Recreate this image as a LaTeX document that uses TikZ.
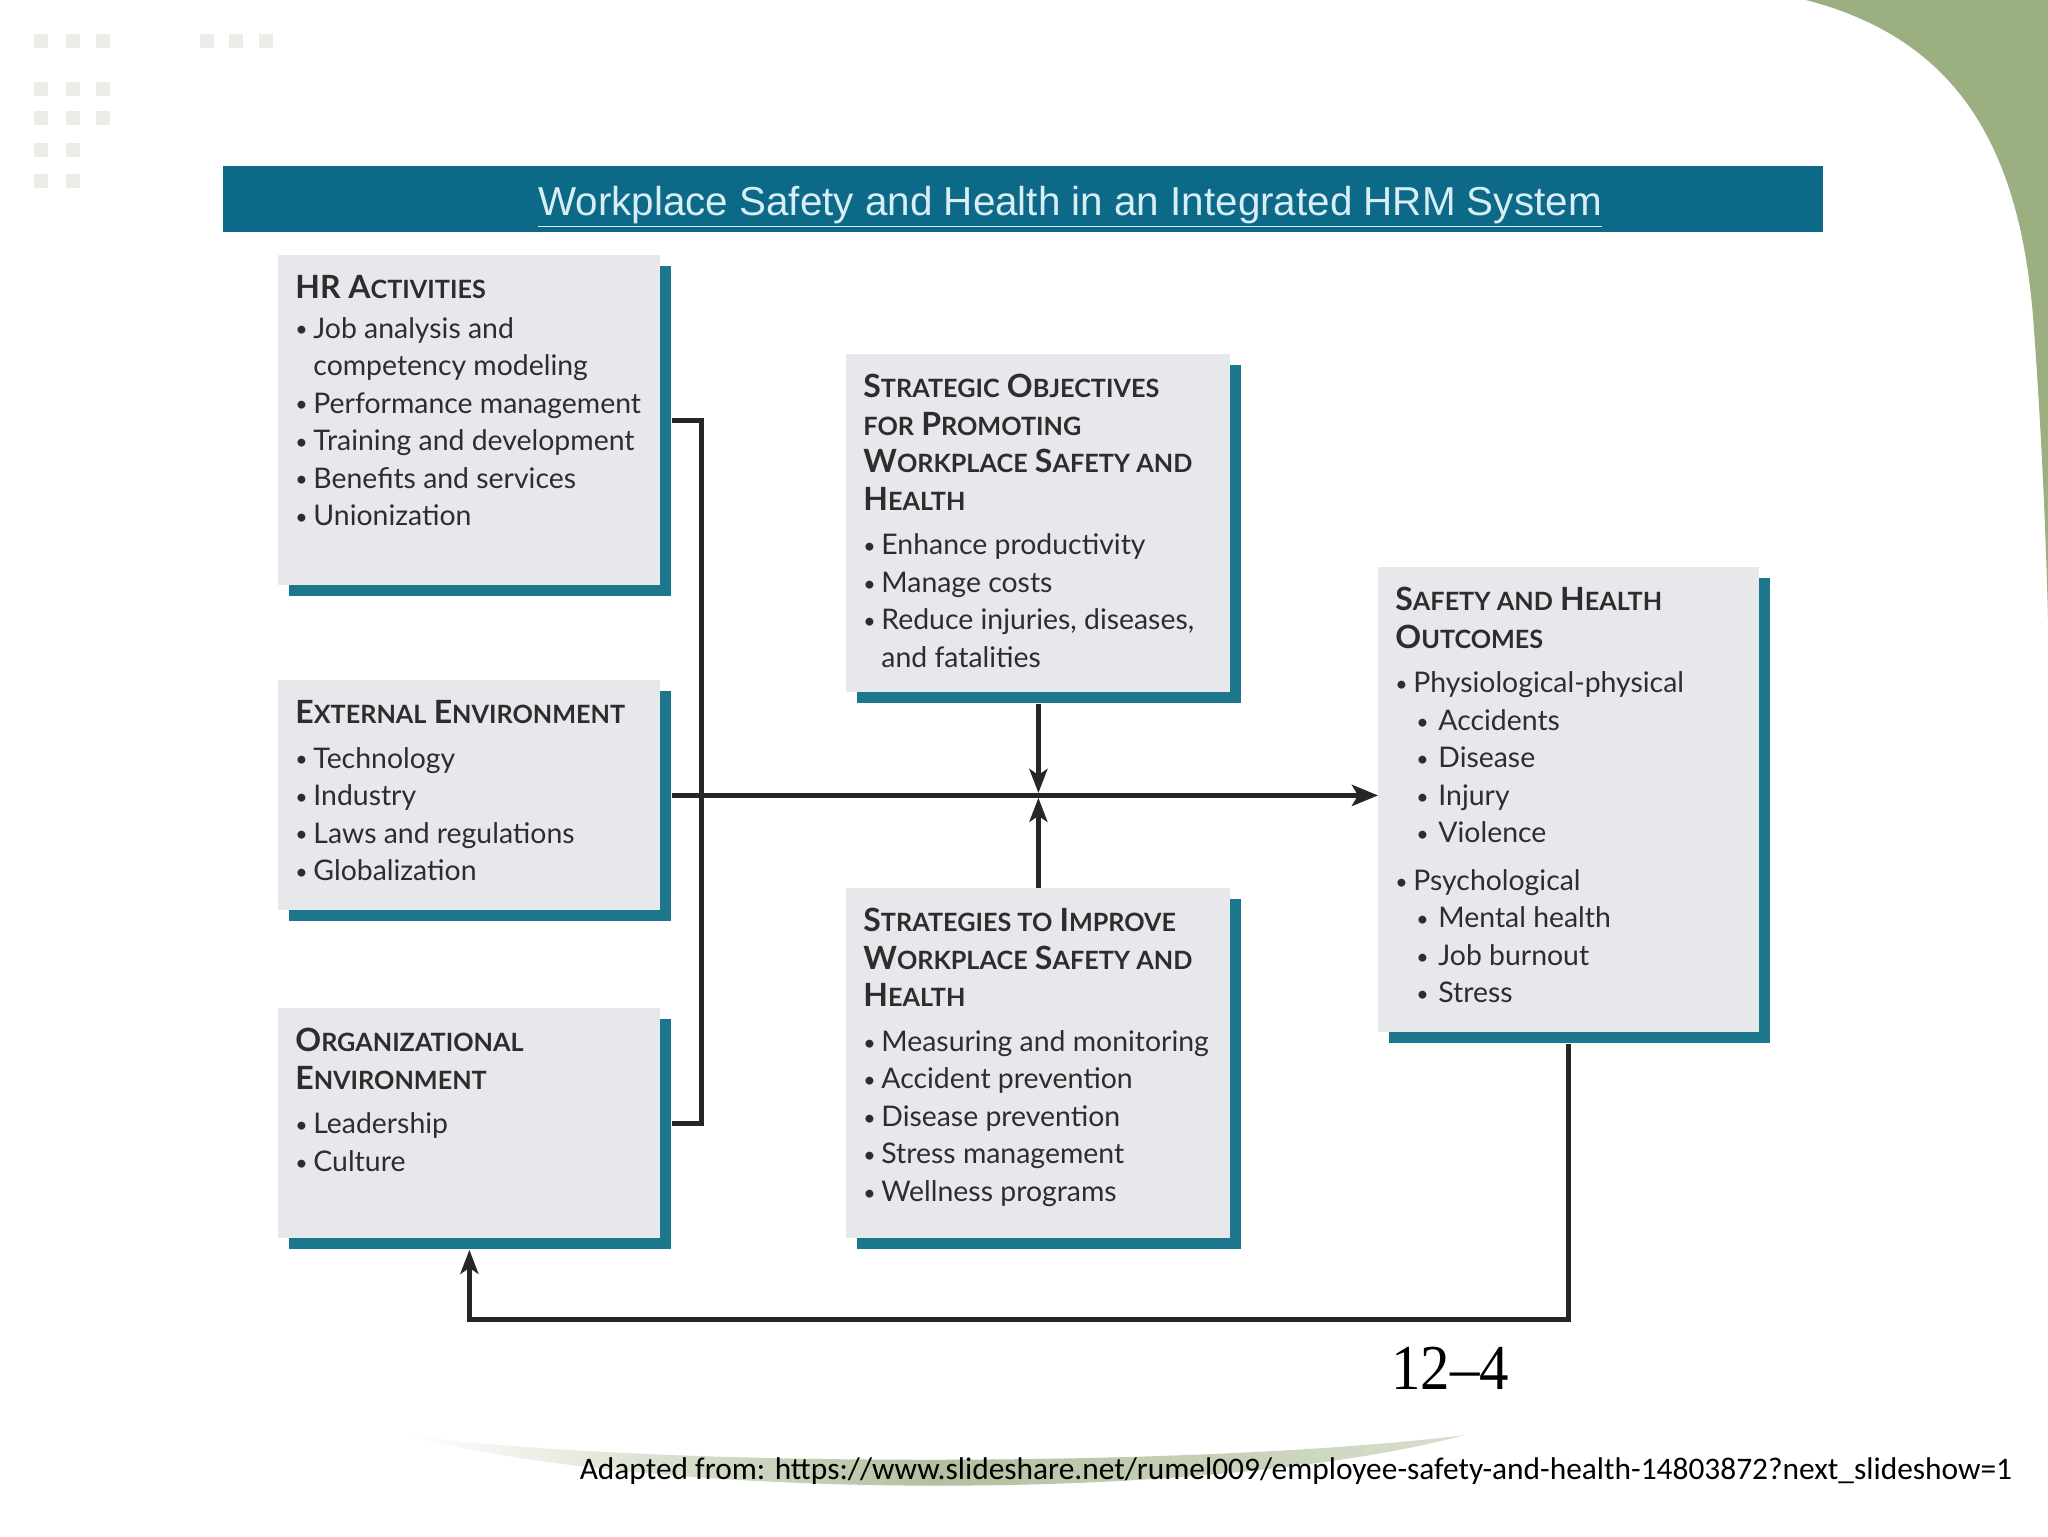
\documentclass[tikz,border=0pt]{standalone}
\usepackage{graphicx}
\usepackage{fontspec}
\setmainfont{Lato}
\newfontfamily\titlefont{Liberation Sans}
\newfontfamily\footfont{Carlito}
\newfontfamily\numfont{Liberation Serif}
\usetikzlibrary{arrows.meta,shadows,calc}
\definecolor{titlebar}{RGB}{12,105,135}
\definecolor{titletext}{RGB}{215,238,245}
\definecolor{shadowteal}{RGB}{28,118,140}
\definecolor{boxfill}{RGB}{230,232,236}
\definecolor{textgray}{RGB}{45,45,45}
\definecolor{linegray}{RGB}{38,38,38}
\definecolor{leafgreen}{RGB}{155,175,128}
\definecolor{dotgray}{RGB}{236,236,232}
\definecolor{swoosh}{RGB}{178,192,158}
\newcommand\Cp[1]{{\bfseries\fontsize{16}{19}\selectfont #1}}
\newcommand\Sm[1]{{\bfseries\fontsize{12.6}{19}\selectfont #1}}
\newcommand\dotb{\raisebox{0.6pt}{\scalebox{0.75}{\textbullet}}}
\newcommand\bl[1]{\makebox[9pt][l]{\dotb}#1}
\newcommand\ct[1]{\hspace*{9pt}#1}
\newcommand\sbl[1]{\hspace*{10.5pt}\makebox[11pt][l]{\dotb}#1}
\tikzset{
  box/.style={fill=boxfill, inner sep=0pt, anchor=north west,
    general shadow={fill=shadowteal, shadow xshift=5.5pt, shadow yshift=-5.5pt}},
  txt/.style={anchor=north west, inner sep=0pt, align=left, text=textgray,
    font=\fontsize{14.2}{18.75}\selectfont},
  conn/.style={draw=linegray, line width=2.5pt},
  arr/.style={-{Stealth[length=12pt,width=9pt,inset=3pt]}},
  dot/.style={fill=dotgray},
}
\begin{document}
\begin{tikzpicture}[x=0.5pt,y=-0.5pt]
\useasboundingbox (0,0) rectangle (2048,1536);
\fill[white] (0,0) rectangle (2048,1536);
% green corner
\fill[leafgreen] (1806,0) .. controls (1960,40) and (2022,150) .. (2034,330)
  .. controls (2042,440) and (2046,540) .. (2048,620) -- (2048,0) -- cycle;
% dots
\foreach \x in {34,66,96,200,229,259} \fill[dot] (\x,34) rectangle ++(14,14);
\foreach \y in {82,111} \foreach \x in {34,66,96} \fill[dot] (\x,\y) rectangle ++(14,14);
\foreach \y in {143,174} \foreach \x in {34,66} \fill[dot] (\x,\y) rectangle ++(14,14);
% swoosh
\shade[left color=white, right color=white!50!swoosh, middle color=swoosh]
  (406,1435) .. controls (650,1500) and (1200,1505) .. (1465,1435)
  .. controls (1200,1468) and (650,1468) .. cycle;
% title bar
\node[fill=titlebar, minimum width=800pt, minimum height=33pt, anchor=north west, inner sep=0pt] (bar) at (223,166) {};
\node[font=\titlefont\fontsize{20.2}{24}\selectfont, text=titletext, inner sep=0pt, anchor=base] (title) at (1070,215)
  {\underline{Workplace Safety and Health in an Integrated HRM System}};
% boxes
\node[box, minimum width=191pt, minimum height=165pt] (hr) at (278,255) {};
\node[box, minimum width=191pt, minimum height=115pt] (ext) at (278,680) {};
\node[box, minimum width=191pt, minimum height=115pt] (org) at (278,1008) {};
\node[box, minimum width=192pt, minimum height=169pt] (so) at (846,354) {};
\node[box, minimum width=192pt, minimum height=175pt] (st) at (846,888) {};
\node[box, minimum width=190.5pt, minimum height=232.5pt] (outc) at (1378,567) {};
% texts
\node[txt] (hrt) at ([shift={(17,20)}]hr.north west) {%
  \Cp{HR A}\Sm{CTIVITIES}\\[1pt]
  \bl{Job analysis and}\\
  \ct{competency modeling}\\
  \bl{Performance management}\\
  \bl{Training and development}\\
  \bl{Benefits and services}\\
  \bl{Unionization}};
\node[txt] (extt) at ([shift={(17,20)}]ext.north west) {%
  \Cp{E}\Sm{XTERNAL} \Cp{E}\Sm{NVIRONMENT}\\[3.5pt]
  \bl{Technology}\\
  \bl{Industry}\\
  \bl{Laws and regulations}\\
  \bl{Globalization}};
\node[txt] (orgt) at ([shift={(17,20)}]org.north west) {%
  \Cp{O}\Sm{RGANIZATIONAL}\\
  \Cp{E}\Sm{NVIRONMENT}\\[3.5pt]
  \bl{Leadership}\\
  \bl{Culture}};
\node[txt] (sot) at ([shift={(17,20)}]so.north west) {%
  \Cp{S}\Sm{TRATEGIC} \Cp{O}\Sm{BJECTIVES}\\
  \Sm{FOR} \Cp{P}\Sm{ROMOTING}\\
  \Cp{W}\Sm{ORKPLACE} \Cp{S}\Sm{AFETY AND}\\
  \Cp{H}\Sm{EALTH}\\[3.5pt]
  \bl{Enhance productivity}\\
  \bl{Manage costs}\\
  \bl{Reduce injuries, diseases,}\\
  \ct{and fatalities}};
\node[txt] (stt) at ([shift={(17,20)}]st.north west) {%
  \Cp{S}\Sm{TRATEGIES TO} \Cp{I}\Sm{MPROVE}\\
  \Cp{W}\Sm{ORKPLACE} \Cp{S}\Sm{AFETY AND}\\
  \Cp{H}\Sm{EALTH}\\[3.5pt]
  \bl{Measuring and monitoring}\\
  \bl{Accident prevention}\\
  \bl{Disease prevention}\\
  \bl{Stress management}\\
  \bl{Wellness programs}};
\node[txt] (outct) at ([shift={(17,20)}]outc.north west) {%
  \Cp{S}\Sm{AFETY AND} \Cp{H}\Sm{EALTH}\\
  \Cp{O}\Sm{UTCOMES}\\[3.5pt]
  \bl{Physiological-physical}\\
  \sbl{Accidents}\\
  \sbl{Disease}\\
  \sbl{Injury}\\
  \sbl{Violence}\\[5pt]
  \bl{Psychological}\\
  \sbl{Mental health}\\
  \sbl{Job burnout}\\
  \sbl{Stress}};
% connectors
\coordinate (bus) at (701,795);
\coordinate (fb) at (1000,1319);
\draw[conn] ([xshift=5.5pt]hr.east) -- (hr.east -| bus) -- (org.east -| bus) -- ([xshift=5.5pt]org.east);
\draw[conn,-{Stealth[length=13pt,width=10.5pt,inset=3pt]}] ([xshift=5.5pt]ext.east) -- (ext.east -| outc.west);
\draw[conn,arr,shorten >=1.2pt] ([yshift=-5.5pt]so.south) -- (so.south |- ext.east);
\draw[conn,arr,shorten >=1.2pt] (st.north) -- (st.north |- ext.east);
\draw[conn,arr] ([yshift=-5.5pt]outc.south) |- (fb) -| ([yshift=-5.5pt]org.south);
% labels
\node[font=\numfont\fontsize{32}{36}\selectfont, text=black, inner sep=0pt] (num) at (1450,1368) {\scalebox{0.92}[1]{12–4}};
\node[font=\footfont\fontsize{15.7}{19}\selectfont, text=black, inner sep=0pt] (foot) at (1296,1471)
  {Adapted from: https://www.slideshare.net/rumel009/employee-safety-and-health-14803872?next\_slideshow=1};
\end{tikzpicture}
\end{document}
